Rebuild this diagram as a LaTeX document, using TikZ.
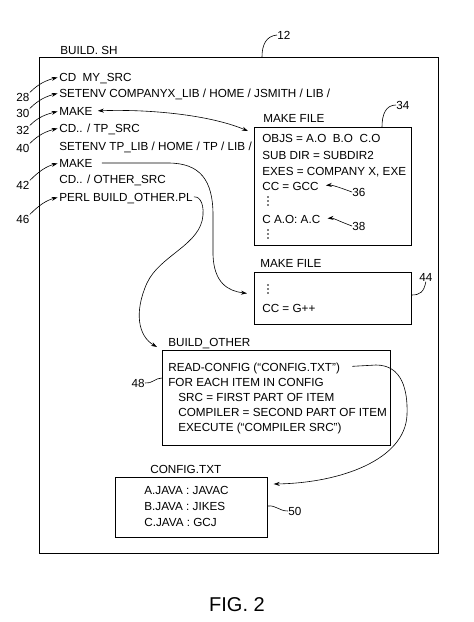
\documentclass[tikz,border=0pt]{standalone}
\usepackage{fontspec}
\setmainfont{Liberation Sans}
\usetikzlibrary{arrows.meta,calc}
\begin{document}
\begin{tikzpicture}[x=1pt,y=-1pt,line width=0.7pt,
  txt/.style={anchor=west,inner sep=0pt,text height=8.5pt,text depth=0pt,font=\fontsize{11.7}{13}\selectfont},
  num/.style={inner sep=0pt,text height=8.5pt,text depth=0pt,font=\fontsize{11.7}{13}\selectfont},
  frame/.style={draw,anchor=north west,inner sep=0pt},
  arr/.style={-{Stealth[length=6pt,width=4pt]}},
  darr/.style={{Stealth[length=6pt,width=4pt]}-{Stealth[length=6pt,width=4pt]}},
  lead/.style={line width=0.6pt}]
\useasboundingbox (0,0) rectangle (474,622);
\newcommand\vdotsat[2]{\foreach \k in {-4,0,4}{\fill (#1,#2+\k) circle (0.9pt);}}

% outer box
\node[frame,minimum width=399pt,minimum height=496pt] (outer) at (39,57) {};
\node[txt] (title) at (60,50) {BUILD. SH};
\node[num,anchor=west] (n12) at (277,35) {12};
\draw[lead] (262,57) coordinate (h12) .. controls (262,45) and (266,36) .. (n12.west);

% script lines
\node[txt] (l1) at (59,77) {CD\ \ MY\_SRC};
\node[txt] (l2) at (59,93) {SETENV COMPANYX\_LIB / HOME / JSMITH / LIB /};
\node[txt] (l3) at (59,111) {MAKE};
\node[txt] (l4) at (59,128) {CD.. / TP\_SRC};
\node[txt] (l5) at (59,146) {SETENV TP\_LIB / HOME / TP / LIB /};
\node[txt] (l6) at (59,163) {MAKE};
\node[txt] (l7) at (59,179) {CD.. / OTHER\_SRC};
\node[txt] (l8) at (59,197) {PERL BUILD\_OTHER.PL};

% left reference numerals
\node[num] (n28) at (23,97) {28};
\node[num] (n30) at (23,113) {30};
\node[num] (n32) at (23,130) {32};
\node[num] (n40) at (23,148) {40};
\node[num] (n42) at (23,185) {42};
\node[num] (n46) at (23,219) {46};
\foreach \a/\b in {n28/l1,n30/l2,n32/l3,n40/l4,n42/l6,n46/l8}
  \draw[arr,lead,shorten >=1.5pt] (\a.north east) to[out=45,in=195] (\b.west);

% make file 1
\node[txt] (mft1) at (263,118) {MAKE FILE};
\node[frame,minimum width=157pt,minimum height=118pt] (mf1) at (254,127) {};
\node[txt] (m1) at (262,138) {OBJS = A.O\ \ B.O\ \ C.O};
\node[txt] (m2) at (262,155) {SUB DIR = SUBDIR2};
\node[txt] (m3) at (262,171) {EXES = COMPANY X, EXE};
\node[txt] (m4) at (262,186) {CC = GCC};
\vdotsat{268}{201}
\node[txt] (m5) at (262,219) {C A.O: A.C};
\vdotsat{268}{234}
\node[num,anchor=west] (n34) at (396,105) {34};
\draw[lead] (382,127) .. controls (382,114) and (386,105) .. (n34.west);
\node[num,anchor=west] (n36) at (352,192) {36};
\node[num,anchor=west] (n38) at (352,226) {38};
\draw[arr,lead,shorten >=7pt] (n36.west) to[out=160,in=5] (m4.east);
\draw[arr,lead,shorten >=7pt] (n38.west) to[out=160,in=5] (m5.east);

% make file 2
\node[txt] (mft2) at (260,263) {MAKE FILE};
\node[frame,minimum width=157pt,minimum height=52pt] (mf2) at (254,272) {};
\vdotsat{268}{289}
\node[txt] (g1) at (262,308) {CC = G++};
\node[num,anchor=west] (n44) at (419,277) {44};
\draw[lead] (mf2.east |- 0,295) .. controls (420,295) and (424,292) .. (n44.south);

% MAKE <-> make file 1
\draw[darr,lead,shorten <=5pt] (l3.east) .. controls (150,109) and (210,115) .. ($(mf1.north west)+(-6,4)$);

% MAKE -> make file 2
\draw[arr,lead,shorten <=9pt] (l6.east) -- (168,163) .. controls (200,163) and (213,180) .. (213,215)
  -- (213,255) .. controls (214,283) and (228,291) .. ($(mf2.west)+(-7,-5)$);

% PERL -> build_other
\node[txt] (bot) at (168,342) {BUILD\_OTHER};
\node[frame,minimum width=228pt,minimum height=95pt] (bo) at (162,350) {};
\draw[arr,lead,shorten <=1pt] (l8.east) .. controls (198,196) and (204,201) .. (203,215)
  .. controls (201,245) and (160,255) .. (147,283) .. controls (134,312) and (138,336) .. ($(bo.north west)+(-5,-3)$);

\node[txt] (b1) at (168,367) {READ-CONFIG (“CONFIG.TXT”)};
\node[txt] (b2) at (168,382) {FOR EACH ITEM IN CONFIG};
\node[txt] (b3) at (178,397) {SRC = FIRST PART OF ITEM};
\node[txt] (b4) at (178,412) {COMPILER = SECOND PART OF ITEM};
\node[txt] (b5) at (178,427) {EXECUTE (“COMPILER SRC”)};
\node[num,anchor=east] (n48) at (145,383) {48};
\draw[lead] (n48.east) .. controls (152,384) and (155,378) .. (bo.west |- 0,378);

% config.txt
\node[txt] (cft) at (150,469) {CONFIG.TXT};
\node[frame,minimum width=152pt,minimum height=60pt] (cf) at (115,477) {};
\node[txt] (c1) at (144,490) {A.JAVA : JAVAC};
\node[txt] (c2) at (144,506) {B.JAVA : JIKES};
\node[txt] (c3) at (144,522) {C.JAVA : GCJ};
\node[num,anchor=west] (n50) at (288,511) {50};
\draw[lead] (cf.east |- 0,506) .. controls (276,505) and (279,511) .. (n50.west);

% READ-CONFIG -> config.txt
\draw[arr,lead,shorten <=12pt] (b1.east) -- (376,365) .. controls (402,365) and (408,390) .. (407,415)
  .. controls (405,460) and (340,483) .. ($(cf.north east)+(6,7)$);

\node[inner sep=0pt,font=\fontsize{20}{22}\selectfont] (fig) at (237,605) {FIG. 2};
\end{tikzpicture}
\end{document}
